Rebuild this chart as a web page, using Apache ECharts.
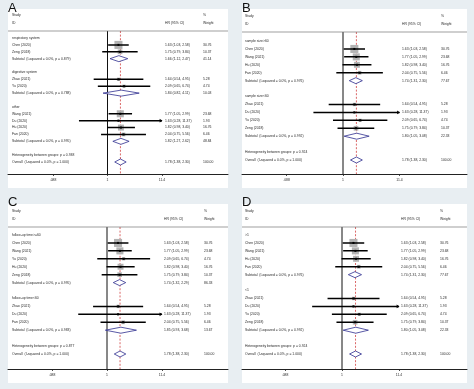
<!DOCTYPE html>
<html><head><meta charset="utf-8">
<script src="https://cdn.jsdelivr.net/npm/echarts@6/dist/echarts.min.js"></script>
<style>html,body{margin:0;padding:0;background:#e8eef2;}#c{width:474px;height:389px;}</style>
</head><body><div id="c"></div>
<script>
// ---------------- DATA ----------------
const studies  = ["Chen (2020)","Zeng (2018)","Zhao (2021)","Yu (2020)","Wang (2021)","Du (2020)","Hu (2020)","Fan (2020)"];
const hr       = [1.63, 1.75, 1.64, 2.09, 1.77, 1.63, 1.82, 2.04];
const ciLow    = [1.03, 0.79, 0.54, 0.65, 1.05, 0.28, 0.98, 0.75];
const ciHigh   = [2.58, 3.84, 4.95, 6.74, 2.99, 11.37, 3.40, 5.56];
const weights  = [30.76, 10.37, 5.28, 4.74, 23.68, 1.93, 16.76, 6.46];

const overallHR = [1.78, 1.38, 2.30];   // estimate, low, high
const overallP  = "1.000";
const tickValues = [0.088, 1, 11.37];
const tickLabels = [".088", "1", "11.4"];

const groupsA    = ["respiratory system", "digestive system", "other"];
const membersA   = [["Chen (2020)","Zeng (2018)"], ["Zhao (2021)","Yu (2020)"], ["Wang (2021)","Du (2020)","Hu (2020)","Fan (2020)"]];
const subHrA     = [1.66, 1.84, 1.82];
const subLowA    = [1.12, 0.82, 1.27];
const subHighA   = [2.47, 4.11, 2.62];
const subWeightA = [41.14, 10.03, 48.84];
const subPA      = ["0.879", "0.788", "0.995"];
const hetPA      = "0.938";

const groupsB    = ["sample size>60", "sample size<60"];
const membersB   = [["Chen (2020)","Wang (2021)","Hu (2020)","Fan (2020)"], ["Zhao (2021)","Du (2020)","Yu (2020)","Zeng (2018)"]];
const subHrB     = [1.74, 1.80];
const subLowB    = [1.31, 1.05];
const subHighB   = [2.30, 3.08];
const subWeightB = [77.67, 22.33];
const subPB      = ["0.976", "0.992"];
const hetPB      = "0.924";

const groupsC    = ["follow-up time>=60", "follow-up time<60"];
const membersC   = [["Chen (2020)","Wang (2021)","Yu (2020)","Hu (2020)","Zeng (2018)"], ["Zhao (2021)","Du (2020)","Fan (2020)"]];
const subHrC     = [1.74, 1.85];
const subLowC    = [1.32, 0.93];
const subHighC   = [2.29, 3.68];
const subWeightC = [86.33, 13.67];
const subPC      = ["0.995", "0.983"];
const hetPC      = "0.877";

const groupsD    = [">1", "<1"];
const membersD   = [["Chen (2020)","Wang (2021)","Hu (2020)","Fan (2020)"], ["Zhao (2021)","Du (2020)","Yu (2020)","Zeng (2018)"]];
const subHrD     = [1.74, 1.80];
const subLowD    = [1.31, 1.05];
const subHighD   = [2.30, 3.08];
const subWeightD = [77.67, 22.33];
const subPD      = ["0.976", "0.992"];
const hetPD      = "0.924";

const panelLetters = ["A", "B", "C", "D"];

// ---------------- LAYOUT / STYLE ----------------
const layouts = [
  {x0:8,  x1:228, y0:9,   y1:188, one:107.5, scale:22.42, head1:15,  head2:23,  hline:31,  row0:38,  rowN:162, axis:174, cLab:12,  cHR:165, cW:203, letterX:8,   letterY:8},
  {x0:242,x1:467, y0:9,   y1:188, one:343,   scale:23.24, head1:16,  head2:24,  hline:32,  row0:41,  rowN:160, axis:174, cLab:245, cHR:402, cW:441, letterX:242, letterY:8},
  {x0:8,  x1:228, y0:204, y1:383, one:107,   scale:22.6,  head1:211, head2:219, hline:227, row0:235, rowN:354, axis:369, cLab:12,  cHR:164, cW:204, letterX:8,   letterY:202},
  {x0:242,x1:467, y0:204, y1:383, one:342,   scale:23.45, head1:211, head2:219, hline:227, row0:235, rowN:354, axis:369, cLab:245, cHR:401, cW:440, letterX:242, letterY:202}
];
const FONT = "'Liberation Sans', Arial, sans-serif";
const FS = 3.4;
const TXT = '#2a2a2a';
const DIAM = '#2f2f8f';
const BOX = '#b3b3b3';
const RED = '#d04040';
const WHISK = '#000000';

function buildRows(groups, members, sHr, sLo, sHi, sW, sP, hetP) {
  const rows = [];
  groups.forEach((g, gi) => {
    rows.push({kind:'group', text:g});
    members[gi].forEach(n => rows.push({kind:'study', idx:studies.indexOf(n)}));
    rows.push({kind:'sub', est:sHr[gi], lo:sLo[gi], hi:sHi[gi], w:sW[gi], p:sP[gi]});
    rows.push({kind:'blank'});
  });
  rows.push({kind:'het', p:hetP});
  rows.push({kind:'overall', est:overallHR[0], lo:overallHR[1], hi:overallHR[2], w:100, p:overallP});
  return rows;
}
const panelRows = [
  buildRows(groupsA, membersA, subHrA, subLowA, subHighA, subWeightA, subPA, hetPA),
  buildRows(groupsB, membersB, subHrB, subLowB, subHighB, subWeightB, subPB, hetPB),
  buildRows(groupsC, membersC, subHrC, subLowC, subHighC, subWeightC, subPC, hetPC),
  buildRows(groupsD, membersD, subHrD, subLowD, subHighD, subWeightD, subPD, hetPD)
];

const fmtCI = (e, l, h) => e.toFixed(2) + ' (' + l.toFixed(2) + ', ' + h.toFixed(2) + ')';
const maxTick = tickValues[tickValues.length - 1];

function txt(x, y, s) {
  return {type:'text', style:{x:x, y:y, text:s, fill:TXT, fontSize:FS, fontFamily:FONT, align:'left', verticalAlign:'middle'}};
}

function rowRenderer(rows, L) {
  return function (params, api) {
    const i = params.dataIndex, r = rows[i];
    const y = api.coord([0, i])[1];
    const X = v => api.coord([Math.log(v), i])[0];
    const kids = [];
    if (r.kind === 'group') {
      kids.push(txt(L.cLab, y, r.text));
    } else if (r.kind === 'study') {
      const k = r.idx;
      const cx = X(hr[k]);
      const side = 1.45 * Math.sqrt(weights[k]);
      kids.push({type:'rect', shape:{x:cx - side/2, y:y - side/2, width:side, height:side}, style:{fill:BOX}});
      kids.push(txt(L.cLab, y, studies[k]));
      kids.push(txt(L.cHR, y, fmtCI(hr[k], ciLow[k], ciHigh[k])));
      kids.push(txt(L.cW, y, weights[k].toFixed(2)));
    } else if (r.kind === 'sub' || r.kind === 'overall') {
      const xl = X(r.lo), xe = X(r.est), xh = X(r.hi);
      kids.push({type:'polygon', shape:{points:[[xl, y], [xe, y - 3], [xh, y], [xe, y + 3]]}, style:{fill:'#fff', stroke:DIAM, lineWidth:0.8}});
      const lab = (r.kind === 'sub' ? 'Subtotal' : 'Overall') + '  (I-squared = 0.0%, p = ' + r.p + ')';
      kids.push(txt(L.cLab, y, lab));
      kids.push(txt(L.cHR, y, fmtCI(r.est, r.lo, r.hi)));
      kids.push(txt(L.cW, y, r.w.toFixed(2)));
    } else if (r.kind === 'het') {
      kids.push(txt(L.cLab, y, 'Heterogeneity between groups: p = ' + r.p));
    }
    return {type:'group', children:kids};
  };
}

function dotRenderer(rows) {
  return function (params, api) {
    const i = params.dataIndex, r = rows[i];
    if (r.kind !== 'study') return null;
    const k = r.idx;
    const y = api.coord([0, i])[1];
    const cx = api.coord([Math.log(hr[k]), i])[0];
    const kids = [{type:'rect', shape:{x:cx - 1, y:y - 1, width:2, height:2}, style:{fill:'#000'}}];
    if (ciHigh[k] >= maxTick) {
      const xr = api.coord([Math.log(maxTick), i])[0];
      kids.push({type:'polygon', shape:{points:[[xr + 0.5, y], [xr - 2.4, y - 1.8], [xr - 2.4, y + 1.8]]}, style:{fill:'#000'}});
    }
    return {type:'group', children:kids};
  };
}

function refRenderer() {
  return function (params, api) {
    const cs = params.coordSys;
    const x1 = api.coord([0, 0])[0];
    const xo = api.coord([Math.log(overallHR[0]), 0])[0];
    return {type:'group', children:[
      {type:'line', shape:{x1:x1, y1:cs.y, x2:x1, y2:cs.y + cs.height}, style:{stroke:'#111', lineWidth:1}},
      {type:'line', shape:{x1:xo, y1:cs.y, x2:xo, y2:cs.y + cs.height}, style:{stroke:RED, lineWidth:0.8, lineDash:[2, 1.6]}}
    ]};
  };
}

const grids = [], xAxes = [], yAxes = [], series = [], graphics = [];
const tickLn = tickValues.map(Math.log);
layouts.forEach((L, p) => {
  const rows = panelRows[p];
  const n = rows.length;
  const step = (L.rowN - L.row0) / (n - 1);
  grids.push({left:L.x0, top:L.hline, width:L.x1 - L.x0, height:L.axis - L.hline});
  xAxes.push({
    gridIndex:p, type:'value',
    min:(L.x0 - L.one) / L.scale, max:(L.x1 - L.one) / L.scale,
    axisLine:{show:true, onZero:false, lineStyle:{color:'#222', width:1}},
    axisTick:{show:true, customValues:tickLn, length:2, lineStyle:{color:'#222', width:0.8}},
    axisLabel:{show:true, customValues:tickLn, fontSize:FS, fontFamily:FONT, color:TXT, margin:4.5,
      formatter:function (v) {
        let b = 0; tickLn.forEach((t, j) => { if (Math.abs(t - v) < Math.abs(tickLn[b] - v)) b = j; });
        return tickLabels[b];
      }},
    splitLine:{show:false}
  });
  yAxes.push({gridIndex:p, type:'value', inverse:true, show:false,
    min:-(L.row0 - L.hline) / step, max:(n - 1) + (L.axis - L.rowN) / step});
  series.push({type:'custom', xAxisIndex:p, yAxisIndex:p, clip:false, silent:true, z:1,
    renderItem:refRenderer(), data:[[0, 0]]});
  series.push({type:'custom', xAxisIndex:p, yAxisIndex:p, clip:false, silent:true, z:2,
    renderItem:rowRenderer(rows, L), data:rows.map((r, i) => [0, i])});
  rows.forEach((r, i) => {
    if (r.kind !== 'study') return;
    const k = r.idx;
    series.push({type:'line', xAxisIndex:p, yAxisIndex:p, silent:true, z:3, symbol:'none',
      lineStyle:{color:WHISK, width:1.5, opacity:1}, itemStyle:{color:WHISK},
      data:[[Math.log(ciLow[k]), i], [Math.log(Math.min(ciHigh[k], maxTick)), i]]});
  });
  series.push({type:'custom', xAxisIndex:p, yAxisIndex:p, clip:false, silent:true, z:4,
    renderItem:dotRenderer(rows), data:rows.map((r, i) => [0, i])});

  graphics.push({type:'rect', z:-10, shape:{x:L.x0, y:L.y0, width:L.x1 - L.x0, height:L.y1 - L.y0}, style:{fill:'#ffffff'}});
  graphics.push({type:'line', z:5, shape:{x1:L.x0, y1:L.hline, x2:L.x1, y2:L.hline}, style:{stroke:'#777', lineWidth:0.7}});
  graphics.push({type:'text', z:5, style:{x:L.letterX, y:L.letterY, text:panelLetters[p], fontSize:13, fontFamily:FONT, fill:'#111', verticalAlign:'middle'}});
  graphics.push({type:'text', z:5, style:{x:L.cLab, y:L.head1, text:'Study', fontSize:FS, fontFamily:FONT, fill:TXT, verticalAlign:'middle'}});
  graphics.push({type:'text', z:5, style:{x:L.cLab, y:L.head2, text:'ID', fontSize:FS, fontFamily:FONT, fill:TXT, verticalAlign:'middle'}});
  graphics.push({type:'text', z:5, style:{x:L.cHR, y:L.head2, text:'HR (95% CI)', fontSize:FS, fontFamily:FONT, fill:TXT, verticalAlign:'middle'}});
  graphics.push({type:'text', z:5, style:{x:L.cW, y:L.head1, text:'%', fontSize:FS, fontFamily:FONT, fill:TXT, verticalAlign:'middle'}});
  graphics.push({type:'text', z:5, style:{x:L.cW, y:L.head2, text:'Weight', fontSize:FS, fontFamily:FONT, fill:TXT, verticalAlign:'middle'}});
});

const chart = echarts.init(document.getElementById('c'), null, {renderer:'canvas'});
chart.setOption({
  backgroundColor:'#e8eef2',
  animation:false,
  grid:grids, xAxis:xAxes, yAxis:yAxes, series:series, graphic:graphics
});
</script>
</body></html>
